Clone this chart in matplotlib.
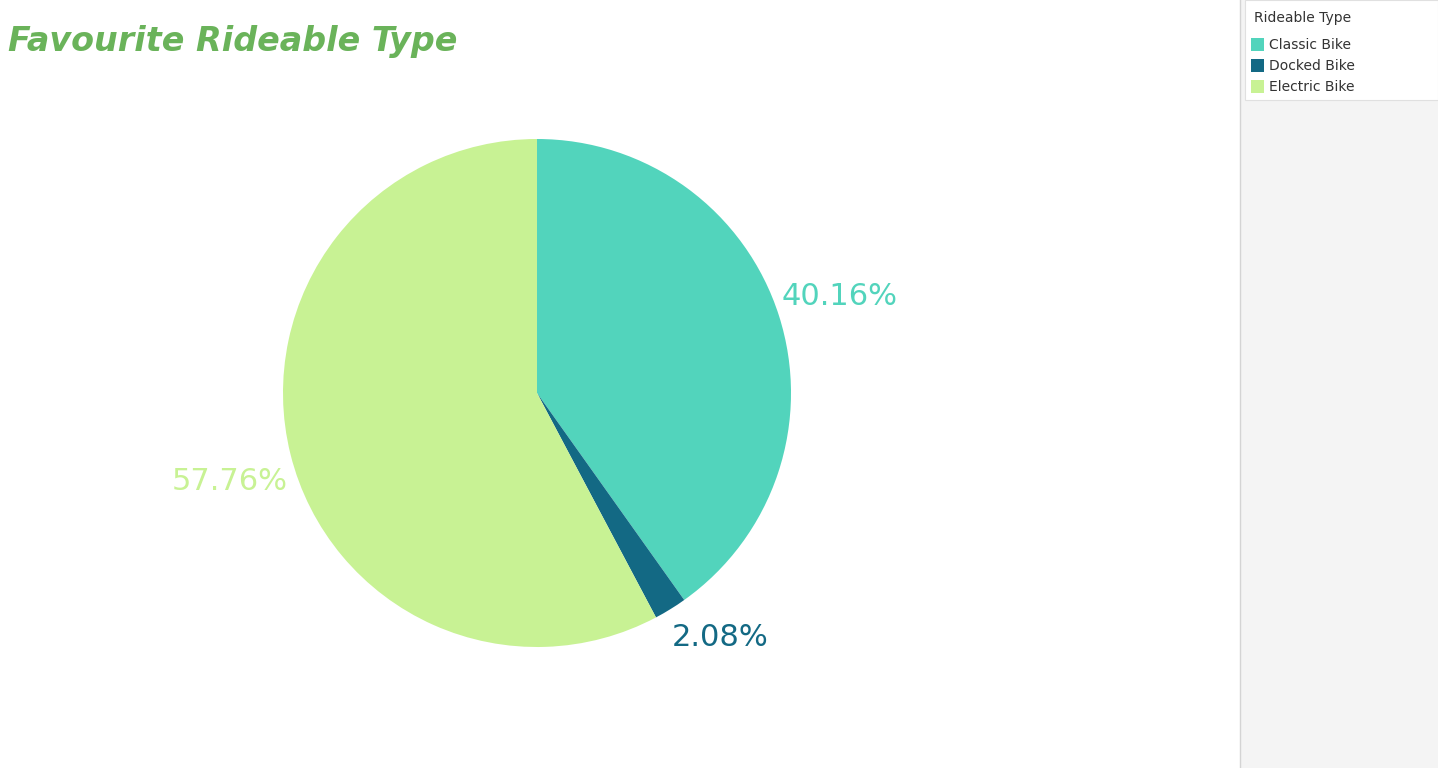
import matplotlib
matplotlib.use("Agg")
import matplotlib.pyplot as plt
from matplotlib.patches import Rectangle

categories = ["Classic Bike", "Docked Bike", "Electric Bike"]
shares = [40.16, 2.08, 57.76]
colors = ["#52D4BC", "#136984", "#C8F294"]
label_pos = [(840, 296), (720, 637), (230, 481)]

W, H = 1438, 768
fig = plt.figure(figsize=(W/100, H/100), dpi=100)
fig.patch.set_facecolor("white")

# right panel
fig.patches.append(Rectangle((1240/W, 0), 198/W, 1, transform=fig.transFigure,
                             facecolor="#F4F4F4", edgecolor="none", zorder=0))
fig.lines.append(plt.Line2D([1240/W, 1240/W], [0, 1], transform=fig.transFigure, color="#D4D4D4", lw=1))
fig.patches.append(Rectangle((1245/W, 1-100/H), 193/W, 100/H, transform=fig.transFigure,
                             facecolor="white", edgecolor="#E0E0E0", lw=0.8, zorder=1))
fig.text(1254/W, 1-18/H, "Rideable Type", fontsize=10, color="#333333", va="center", ha="left")
for i, (c, col) in enumerate(zip(categories, colors)):
    y = 45 + 21*i
    fig.patches.append(Rectangle((1251/W, 1-(y+6)/H), 13/W, 13/H, transform=fig.transFigure,
                                 facecolor=col, edgecolor="none", zorder=2))
    fig.text(1269/W, 1-y/H, c, fontsize=10, color="#333333", va="center", ha="left")

# title
fig.text(8/W, 1-42/H, "Favourite Rideable Type", fontsize=24, color="#6AB35A",
         fontstyle="italic", fontweight="bold", va="center", ha="left", family="DejaVu Sans")

cx, cy, r = 537, 393, 254
ax = fig.add_axes([(cx-r)/W, (H-cy-r)/H, 2*r/W, 2*r/H])
ax.pie(shares, colors=colors, startangle=90, counterclock=False, radius=1,
       wedgeprops=dict(linewidth=0))
ax.set_xlim(-1, 1); ax.set_ylim(-1, 1)
ax.set_aspect("auto")
ax.axis("off")

for s, col, (x, y) in zip(shares, colors, label_pos):
    fig.text(x/W, 1-y/H, f"{s:.2f}%", fontsize=22, color=col, ha="center", va="center")

fig.savefig("out.png", dpi=100)
